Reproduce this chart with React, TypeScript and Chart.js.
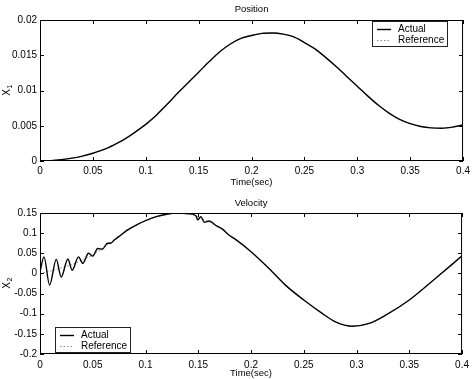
import React, { useEffect, useRef } from "react";
import { Chart, registerables } from "chart.js";

Chart.register(...registerables);

// ---------- data ----------
const xTickValues = [0, 0.05, 0.1, 0.15, 0.2, 0.25, 0.3, 0.35, 0.4];
const positionTickValues = [0, 0.005, 0.01, 0.015, 0.02];
const velocityTickValues = [-0.2, -0.15, -0.1, -0.05, 0, 0.05, 0.1, 0.15];

const positionTime = [
  0, 0.01, 0.02, 0.03, 0.04, 0.05, 0.06, 0.07, 0.08, 0.09, 0.1, 0.11, 0.12, 0.13,
  0.14, 0.15, 0.16, 0.17, 0.18, 0.19, 0.2, 0.21, 0.22, 0.23, 0.24, 0.25, 0.26,
  0.27, 0.28, 0.29, 0.3, 0.31, 0.32, 0.33, 0.34, 0.35, 0.36, 0.37, 0.38, 0.39, 0.4,
];
const positionActual = [
  0, 0.00006, 0.0002, 0.0004, 0.0007, 0.0011, 0.0016, 0.0023, 0.0031, 0.0041,
  0.0052, 0.0065, 0.008, 0.0096, 0.0111, 0.0126, 0.0141, 0.0155, 0.0166, 0.0174,
  0.0178, 0.0181, 0.01816, 0.018, 0.0176, 0.0168, 0.0159, 0.0147, 0.0134, 0.012,
  0.0106, 0.0092, 0.0079, 0.0068, 0.0059, 0.0053, 0.0049, 0.0047, 0.00465, 0.0048,
  0.0051,
];
const positionReference = [
  0, 0.00005, 0.00018, 0.00038, 0.00068, 0.0011, 0.0016, 0.0023, 0.0031, 0.0041,
  0.0052, 0.0065, 0.008, 0.0096, 0.0111, 0.0126, 0.0141, 0.0155, 0.0166, 0.0174,
  0.0178, 0.0181, 0.01816, 0.018, 0.0176, 0.0168, 0.0159, 0.0147, 0.0134, 0.012,
  0.0106, 0.0092, 0.0079, 0.0068, 0.0059, 0.0053, 0.0049, 0.0047, 0.00465, 0.0048,
  0.0051,
];

const velocityTime = [
  0, 0.0038, 0.0091, 0.0154, 0.0201, 0.0264, 0.0305, 0.0365, 0.0406, 0.046, 0.05,
  0.0547, 0.059, 0.064, 0.067, 0.0704, 0.0767, 0.083, 0.0925, 0.1, 0.11, 0.12,
  0.129, 0.1415, 0.1478, 0.1494, 0.1525, 0.1557, 0.1604, 0.1667, 0.173, 0.179,
  0.185, 0.2, 0.2168, 0.2326, 0.25, 0.2674, 0.28, 0.296, 0.312, 0.328, 0.35,
  0.375, 0.4,
];
const velocityActual = [
  0.005, 0.041, -0.029, 0.035, -0.009, 0.036, 0.008, 0.041, 0.025, 0.05, 0.043,
  0.062, 0.06, 0.075, 0.075, 0.083, 0.0955, 0.108, 0.122, 0.131, 0.141, 0.147,
  0.15, 0.148, 0.143, 0.133, 0.141, 0.127, 0.13, 0.119, 0.11, 0.0955, 0.085,
  0.054, 0.013, -0.029, -0.066, -0.099, -0.12, -0.131, -0.124, -0.103, -0.066,
  -0.012, 0.0436,
];
const velocityRefTime = [
  0, 0.01, 0.02, 0.03, 0.04, 0.05, 0.06, 0.07, 0.08, 0.09, 0.1, 0.11, 0.12, 0.13,
  0.14, 0.15, 0.16, 0.17, 0.18, 0.185, 0.2, 0.2168, 0.2326, 0.25, 0.2674, 0.28,
  0.296, 0.312, 0.328, 0.35, 0.375, 0.4,
];
const velocityReference = [
  0, 0.006, 0.014, 0.022, 0.033, 0.046, 0.064, 0.082, 0.1, 0.117, 0.13, 0.14,
  0.147, 0.15, 0.148, 0.14, 0.128, 0.114, 0.094, 0.085, 0.054, 0.013, -0.029,
  -0.066, -0.099, -0.12, -0.131, -0.124, -0.103, -0.066, -0.012, 0.0436,
];

// ---------- styling ----------
const FONT = "'Liberation Sans', Arial, Helvetica, sans-serif";
const FS = 9.5;

function pairs(xs: number[], ys: number[]) {
  return xs.map((x, i) => ({ x, y: ys[i] }));
}

function fmt(v: number) {
  if (Math.abs(v) < 1e-12) return "0";
  return String(parseFloat(v.toFixed(4)));
}

const matlabPlugin = {
  id: "matlabFrame",
  afterDatasetsDraw(chart: any, _args: any, opts: any) {
    const { ctx, chartArea } = chart;
    const { left, right, top, bottom } = chartArea;
    const xs = chart.scales.x;
    const ys = chart.scales.y;
    ctx.save();
    ctx.strokeStyle = "#000";
    ctx.lineWidth = 1;
    ctx.strokeRect(left + 0.5, top + 0.5, right - left - 1, bottom - top - 1);
    const tl = 4;
    ctx.beginPath();
    xs.ticks.forEach((t: any) => {
      const p = Math.round(xs.getPixelForValue(t.value)) + 0.5;
      ctx.moveTo(p, bottom);
      ctx.lineTo(p, bottom - tl);
      ctx.moveTo(p, top);
      ctx.lineTo(p, top + tl);
    });
    ys.ticks.forEach((t: any) => {
      const p = Math.round(ys.getPixelForValue(t.value)) + 0.5;
      ctx.moveTo(left, p);
      ctx.lineTo(left + tl, p);
      ctx.moveTo(right, p);
      ctx.lineTo(right - tl, p);
    });
    ctx.stroke();

    // titles
    ctx.fillStyle = "#000";
    ctx.font = `${FS}px ${FONT}`;
    ctx.textAlign = "center";
    ctx.textBaseline = "middle";
    ctx.fillText(opts.title, (left + right) / 2, top - opts.titleGap);
    ctx.fillText(opts.xTitle, (left + right) / 2, bottom + opts.xTitleGap);

    // y title with subscript
    ctx.save();
    ctx.translate(0, (top + bottom) / 2);
    ctx.rotate(-Math.PI / 2);
    ctx.textAlign = "left";
    ctx.textBaseline = "alphabetic";
    ctx.font = `10px ${FONT}`;
    const wX = ctx.measureText(opts.yTitle).width;
    ctx.font = `7px ${FONT}`;
    const wS = ctx.measureText(opts.ySub).width;
    const start = -(wX + wS) / 2;
    ctx.font = `10px ${FONT}`;
    ctx.fillText(opts.yTitle, start, 10.3);
    ctx.font = `7px ${FONT}`;
    ctx.fillText(opts.ySub, start + wX + 0.5, 11.5);
    ctx.restore();

    // legend box
    const lg = opts.legend;
    const bw = 75;
    const bh = 25;
    const bx = lg.corner === "tr" ? right - lg.dx - bw : left + lg.dx;
    const by = lg.corner === "tr" ? top + lg.dy : bottom - lg.dy - bh;
    ctx.fillStyle = "#fff";
    ctx.fillRect(bx, by, bw, bh);
    ctx.strokeStyle = "#222";
    ctx.lineWidth = 1;
    ctx.strokeRect(Math.round(bx) + 0.5, Math.round(by) + 0.5, bw, bh);
    chart.data.datasets.forEach((ds: any, i: number) => {
      const ry = Math.round(by + 7.5 + i * 11) + 0.5;
      ctx.save();
      ctx.strokeStyle = ds.borderColor;
      ctx.lineWidth = ds.borderWidth;
      ctx.setLineDash(ds.borderDash || []);
      ctx.beginPath();
      ctx.moveTo(bx + 5, ry);
      ctx.lineTo(bx + 19, ry);
      ctx.stroke();
      ctx.restore();
      ctx.fillStyle = "#000";
      ctx.font = `10px ${FONT}`;
      ctx.textAlign = "left";
      ctx.textBaseline = "middle";
      ctx.fillText(ds.label, bx + 26, ry);
    });
    ctx.restore();
  },
};

function buildConfig(p: {
  actual: { x: number; y: number }[];
  reference: { x: number; y: number }[];
  yMin: number;
  yMax: number;
  yTicks: number[];
  padTop: number;
  xAxisHeight: number;
  xTickPad: number;
  title: string;
  ySub: string;
  titleGap: number;
  xTitleGap: number;
  legend: any;
}): any {
  return {
    type: "line",
    data: {
      datasets: [
        {
          label: "Actual",
          data: p.actual,
          borderColor: "#000",
          borderWidth: 1.4,
          pointRadius: 0,
          fill: false,
          cubicInterpolationMode: "monotone",
        },
        {
          label: "Reference",
          data: p.reference,
          borderColor: "#8a8a8a",
          borderWidth: 1,
          borderDash: [1.5, 2],
          pointRadius: 0,
          fill: false,
          cubicInterpolationMode: "monotone",
        },
      ],
    },
    options: {
      responsive: false,
      animation: false,
      devicePixelRatio: 1,
      layout: { padding: { left: 0, right: 10, top: p.padTop, bottom: 0 } },
      plugins: {
        legend: { display: false },
        tooltip: { enabled: false },
        title: { display: false },
        matlabFrame: {
          title: p.title,
          titleGap: p.titleGap,
          xTitle: "Time(sec)",
          xTitleGap: p.xTitleGap,
          yTitle: "X",
          ySub: p.ySub,
          legend: p.legend,
        },
      },
      scales: {
        x: {
          type: "linear",
          min: 0,
          max: 0.4,
          grid: { display: false, drawTicks: false },
          border: { display: false },
          afterBuildTicks: (s: any) => {
            s.ticks = xTickValues.map((v) => ({ value: v }));
          },
          afterFit: (s: any) => {
            s.height = p.xAxisHeight;
          },
          ticks: {
            padding: p.xTickPad,
            color: "#000",
            font: { family: FONT, size: 10 },
            maxRotation: 0,
            autoSkip: false,
            callback: (v: any) => fmt(Number(v)),
          },
        },
        y: {
          type: "linear",
          min: p.yMin,
          max: p.yMax,
          grid: { display: false, drawTicks: false },
          border: { display: false },
          afterBuildTicks: (s: any) => {
            s.ticks = p.yTicks.map((v) => ({ value: v }));
          },
          afterFit: (s: any) => {
            s.width = 40;
          },
          ticks: {
            padding: 3,
            color: "#000",
            font: { family: FONT, size: 10 },
            autoSkip: false,
            callback: (v: any) => fmt(Number(v)),
          },
        },
      },
    },
    plugins: [matlabPlugin],
  };
}

function ChartCanvas({ config, width, height, top }: any) {
  const ref = useRef<HTMLCanvasElement | null>(null);
  useEffect(() => {
    if (!ref.current) return;
    const chart = new Chart(ref.current, config);
    return () => chart.destroy();
  }, []);
  return (
    <canvas
      ref={ref}
      width={width}
      height={height}
      style={{ position: "absolute", left: 0, top, width, height, display: "block" }}
    />
  );
}

export default function App() {
  const topConfig = buildConfig({
    actual: pairs(positionTime, positionActual),
    reference: pairs(positionTime, positionReference),
    yMin: 0,
    yMax: 0.02,
    yTicks: positionTickValues,
    padTop: 20,
    xAxisHeight: 29,
    xTickPad: 4,
    title: "Position",
    ySub: "1",
    titleGap: 11,
    xTitleGap: 21,
    legend: { corner: "tr", dx: 16, dy: 1 },
  });
  const bottomConfig = buildConfig({
    actual: pairs(velocityTime, velocityActual),
    reference: pairs(velocityRefTime, velocityReference),
    yMin: -0.2,
    yMax: 0.15,
    yTicks: velocityTickValues,
    padTop: 23,
    xAxisHeight: 25,
    xTickPad: 5,
    title: "Velocity",
    ySub: "2",
    titleGap: 10,
    xTitleGap: 19.5,
    legend: { corner: "bl", dx: 15, dy: 2 },
  });
  return (
    <div
      style={{
        position: "absolute",
        left: 0,
        top: 0,
        width: 474,
        height: 379,
        background: "#fff",
        overflow: "hidden",
      }}
    >
      <ChartCanvas config={topConfig} width={474} height={190} top={0} />
      <ChartCanvas config={bottomConfig} width={474} height={189} top={190} />
    </div>
  );
}
